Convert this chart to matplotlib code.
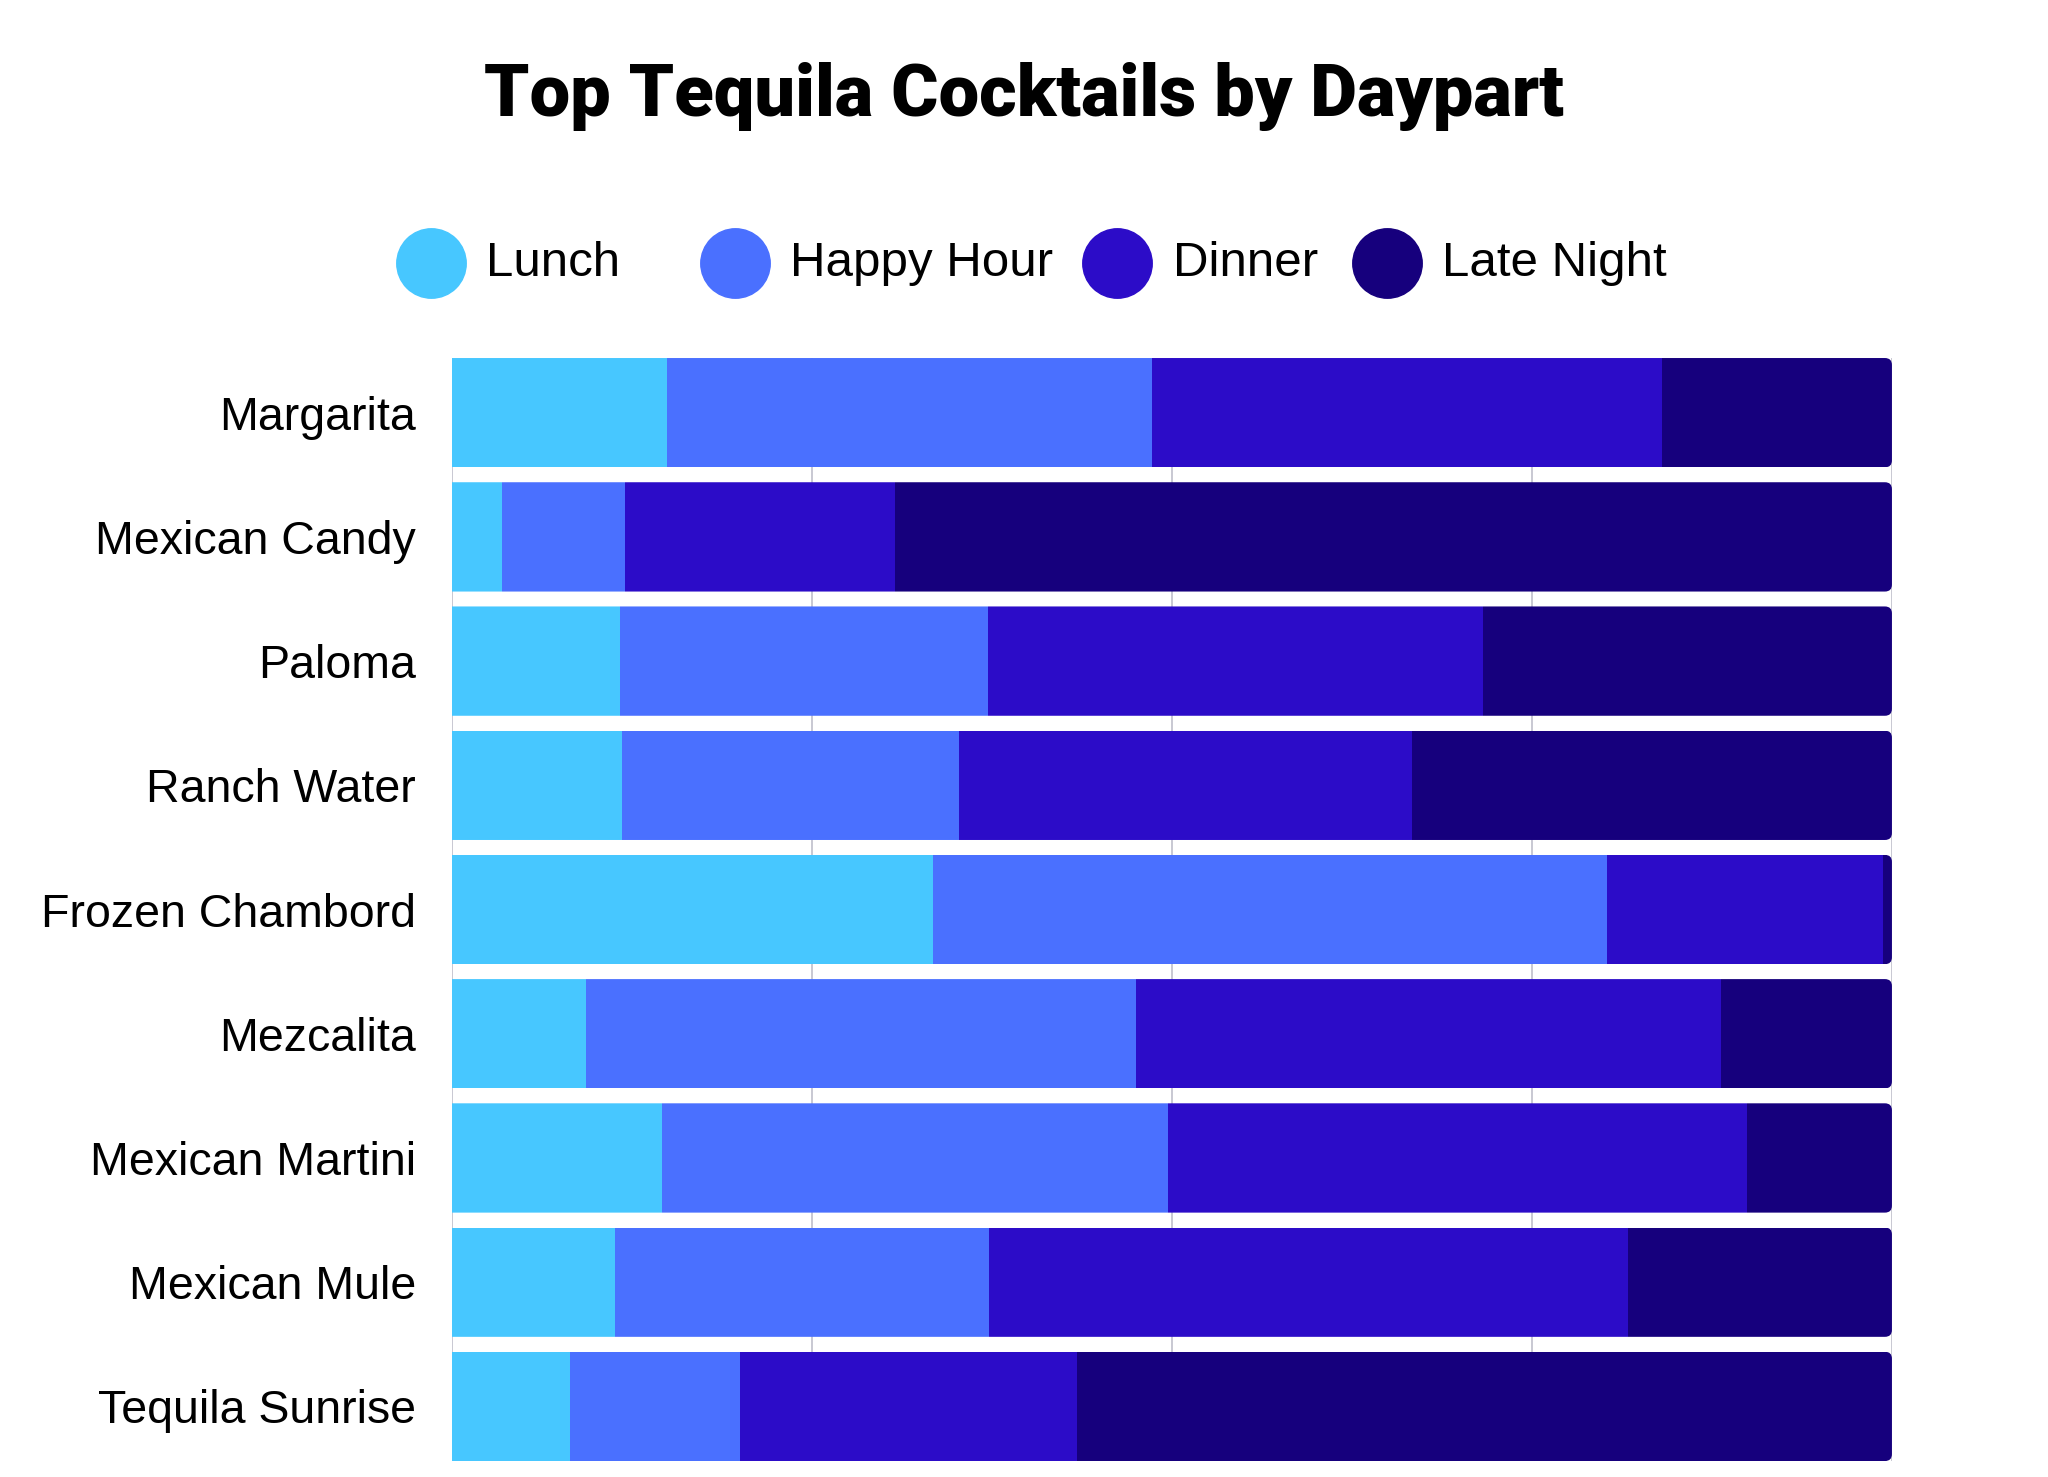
import matplotlib
matplotlib.use("Agg")
import matplotlib.pyplot as plt
from matplotlib.patches import FancyBboxPatch
from matplotlib.lines import Line2D

cocktails = ["Margarita", "Mexican Candy", "Paloma", "Ranch Water", "Frozen Chambord",
             "Mezcalita", "Mexican Martini", "Mexican Mule", "Tequila Sunrise"]
dayparts = ["Lunch", "Happy Hour", "Dinner", "Late Night"]
lunch = [14.9, 3.5, 11.7, 11.8, 33.4, 9.3, 14.6, 11.3, 8.2]
happy_hour = [33.7, 8.5, 25.5, 23.4, 46.8, 38.2, 35.1, 26.0, 11.8]
dinner = [35.4, 18.8, 34.4, 31.5, 19.2, 40.6, 40.2, 44.4, 23.4]
late_night = [16.0, 69.2, 28.4, 33.3, 0.6, 11.9, 10.1, 18.3, 56.6]
colors = ["#47C7FF", "#4A70FF", "#2C0CC8", "#16007D"]

plt.rcParams['font.family'] = ['Liberation Sans', 'DejaVu Sans']

fig = plt.figure(figsize=(20.48, 14.77), dpi=100)
ax = fig.add_axes([0.2207, 0.0108, 0.7031, 0.7468])

h = 0.88
series = [lunch, happy_hour, dinner, late_night]
y = list(range(len(cocktails)))
left = [0.0] * len(cocktails)
all_bars = []
for vals, col, name in zip(series, colors, dayparts):
    bars = ax.barh(y, vals, left=left, height=h, color=col, label=name, zorder=2,
                   linewidth=0)
    all_bars.append(bars)
    left = [l + v for l, v in zip(left, vals)]

ax.set_xlim(0, 100)
ax.set_ylim(len(cocktails) - 1 + h / 2, -h / 2)

# rounded right ends: clip each bar row with a rounded rectangle
fig.canvas.draw()
bbox = ax.get_window_extent()
px_per_x = bbox.width / 100.0
px_per_y = bbox.height / (len(cocktails) - 1 + h)
r_px = 7
rx = r_px / px_per_x
aspect = (1 / px_per_y) / (1 / px_per_x)
for i, tot in enumerate(left):
    clip = FancyBboxPatch((-5, i - h / 2), tot + 5, h,
                          boxstyle=f"round,pad=0,rounding_size={rx}",
                          mutation_aspect=aspect, transform=ax.transData,
                          facecolor='none', edgecolor='none')
    for bars in all_bars:
        bars[i].set_clip_path(clip)

ax.set_xticks([0, 25, 50, 75, 100])
ax.xaxis.grid(True, color="#C8C8D2", linewidth=1.4, zorder=0)
ax.set_axisbelow(True)
ax.tick_params(axis='x', length=0, labelbottom=False)
ax.tick_params(axis='y', length=0, pad=26, labelsize=33.5)
ax.set_yticks(y)
ax.set_yticklabels(cocktails)
for s in ax.spines.values():
    s.set_visible(False)

fig.text(0.5, 0.935, "Top Tequila Cocktails by Daypart", ha='center', va='center',
         fontsize=52, fontweight='black', family=['Roboto', 'DejaVu Sans'])

# legend
circle_x = [431, 735, 1117, 1387]
text_x = [486, 790, 1173, 1442]
ly = 1 - 263 / 1477
for cx, tx, col, name in zip(circle_x, text_x, colors, dayparts):
    fig.add_artist(Line2D([cx / 2048], [ly], marker='o', markersize=50,
                          color=col, linestyle='none', transform=fig.transFigure))
    fig.text(tx / 2048, ly, name, ha='left', va='center', fontsize=35.5)

fig.savefig("out.png", dpi=100)
